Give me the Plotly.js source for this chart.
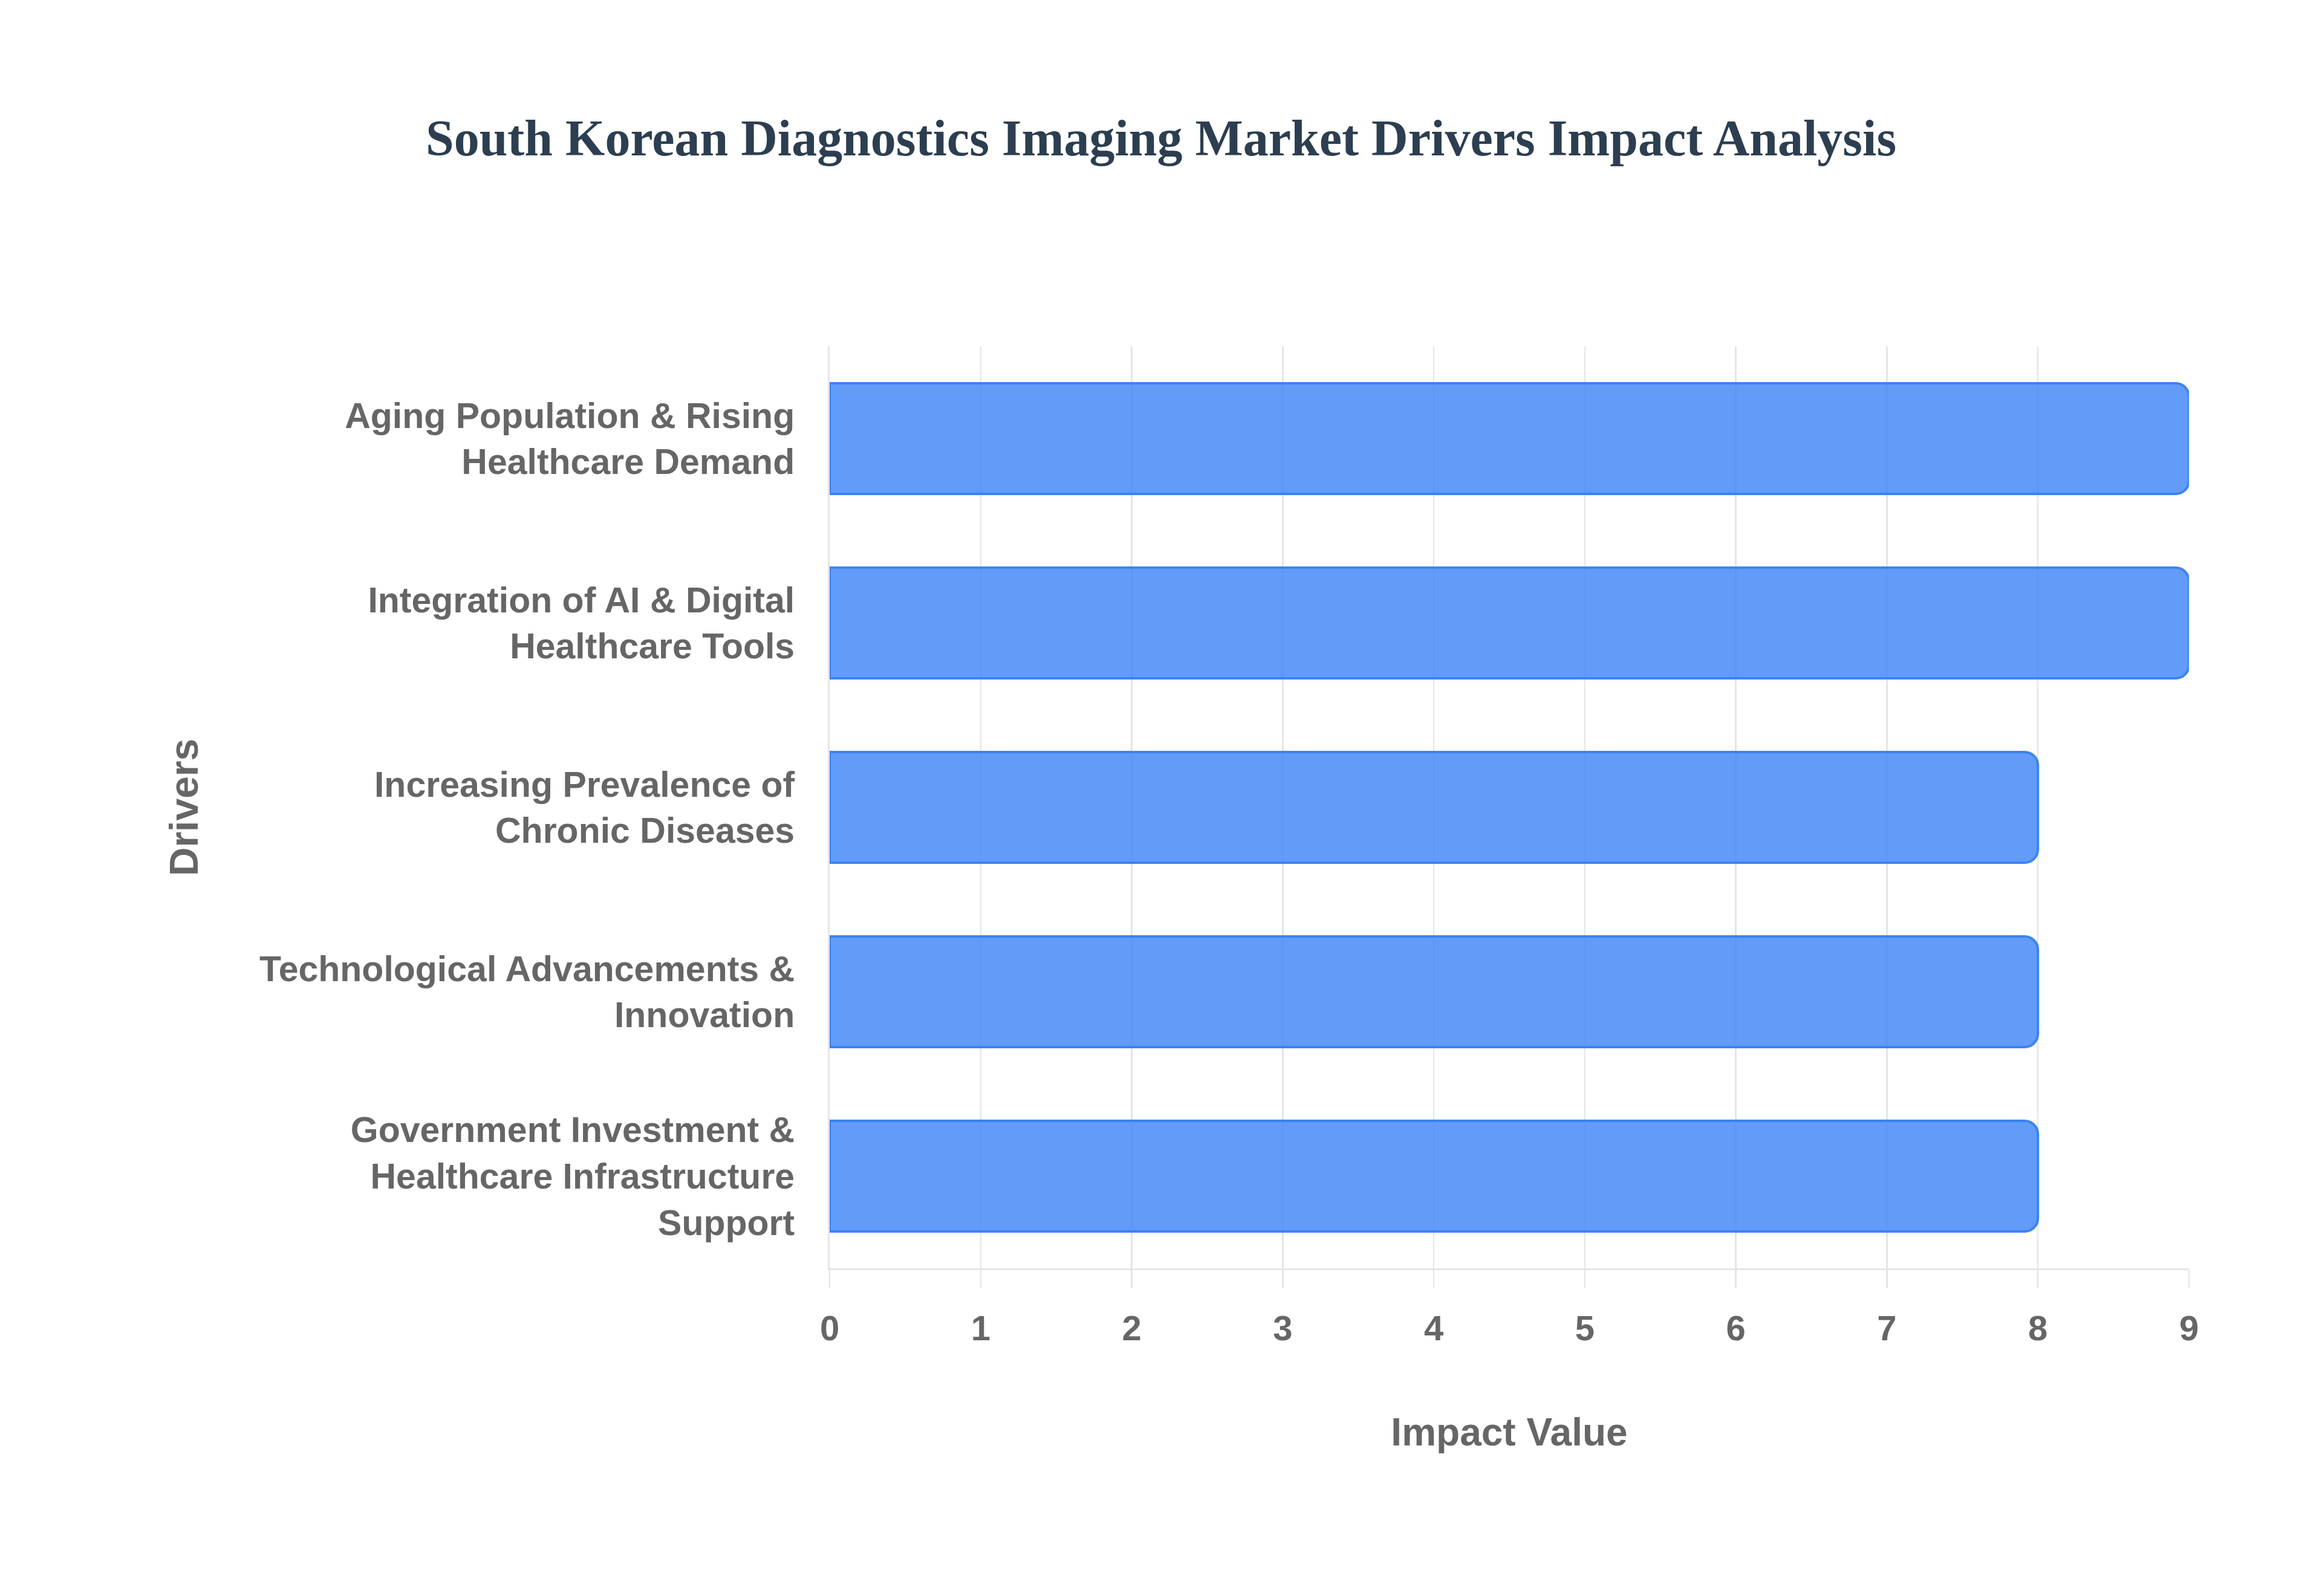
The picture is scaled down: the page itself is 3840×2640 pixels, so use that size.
<!DOCTYPE html>
<html>
<head>
<meta charset="utf-8">
<script src="https://cdn.plot.ly/plotly-3.0.1.min.js"></script>
<style>html,body{margin:0;padding:0;background:#fff;}#chart{width:3840px;height:2640px;}</style>
</head>
<body>
<div id="chart"></div>
<script>
const drivers = [
  "Government Investment &<br>Healthcare Infrastructure<br>Support",
  "Technological Advancements &<br>Innovation",
  "Increasing Prevalence of<br>Chronic Diseases",
  "Integration of AI & Digital<br>Healthcare Tools",
  "Aging Population & Rising<br>Healthcare Demand"
];
const impactValues = [8, 8, 8, 9, 9];
const xTickValues = [0, 1, 2, 3, 4, 5, 6, 7, 8, 9];

const gridColor = "rgba(0,0,0,0.1)";
const labelColor = "#666666";
const sansFont = "Liberation Sans, Arial, Helvetica, sans-serif";

const trace = {
  type: "bar",
  orientation: "h",
  x: impactValues,
  y: drivers,
  marker: {
    color: "rgba(59,130,246,0.8)",
    line: {color: "rgb(59,130,246)", width: 4}
  },
  cliponaxis: false,
  hoverinfo: "x+y"
};

const layout = {
  width: 3840,
  height: 2640,
  paper_bgcolor: "#ffffff",
  plot_bgcolor: "#ffffff",
  margin: {l: 1372, r: 220, t: 573, b: 542},
  bargap: 0.4,
  barcornerradius: 22,
  showlegend: false,
  title: {
    text: "South Korean Diagnostics Imaging Market Drivers Impact Analysis",
    x: 0.5, xref: "container", xanchor: "center",
    y: 1 - 228 / 2640, yref: "container", yanchor: "middle",
    font: {family: "Liberation Serif, Times New Roman, serif", size: 84, color: "#2c3e50", weight: "bold"}
  },
  xaxis: {
    range: [0, 9],
    tickvals: xTickValues,
    showgrid: true,
    gridcolor: gridColor,
    gridwidth: 2.5,
    zeroline: false,
    showline: true,
    linecolor: gridColor,
    linewidth: 3,
    ticks: "outside",
    ticklen: 30,
    tickwidth: 2.5,
    tickcolor: gridColor,
    ticklabelstandoff: 16,
    tickfont: {family: sansFont, size: 58, color: labelColor, weight: "bold"},
    title: {
      text: "Impact Value",
      standoff: 119,
      font: {family: sansFont, size: 64, color: labelColor, weight: "bold"}
    }
  },
  yaxis: {
    showgrid: false,
    zeroline: false,
    showline: true,
    linecolor: gridColor,
    linewidth: 3,
    ticks: "",
    ticklabelstandoff: 43,
    tickfont: {family: sansFont, size: 59, color: labelColor, weight: "bold"},
    title: {
      text: "Drivers",
      standoff: 80,
      font: {family: sansFont, size: 66, color: labelColor, weight: "bold"}
    }
  }
};

Plotly.newPlot("chart", [trace], layout, {displayModeBar: false, staticPlot: true});
</script>
</body>
</html>
